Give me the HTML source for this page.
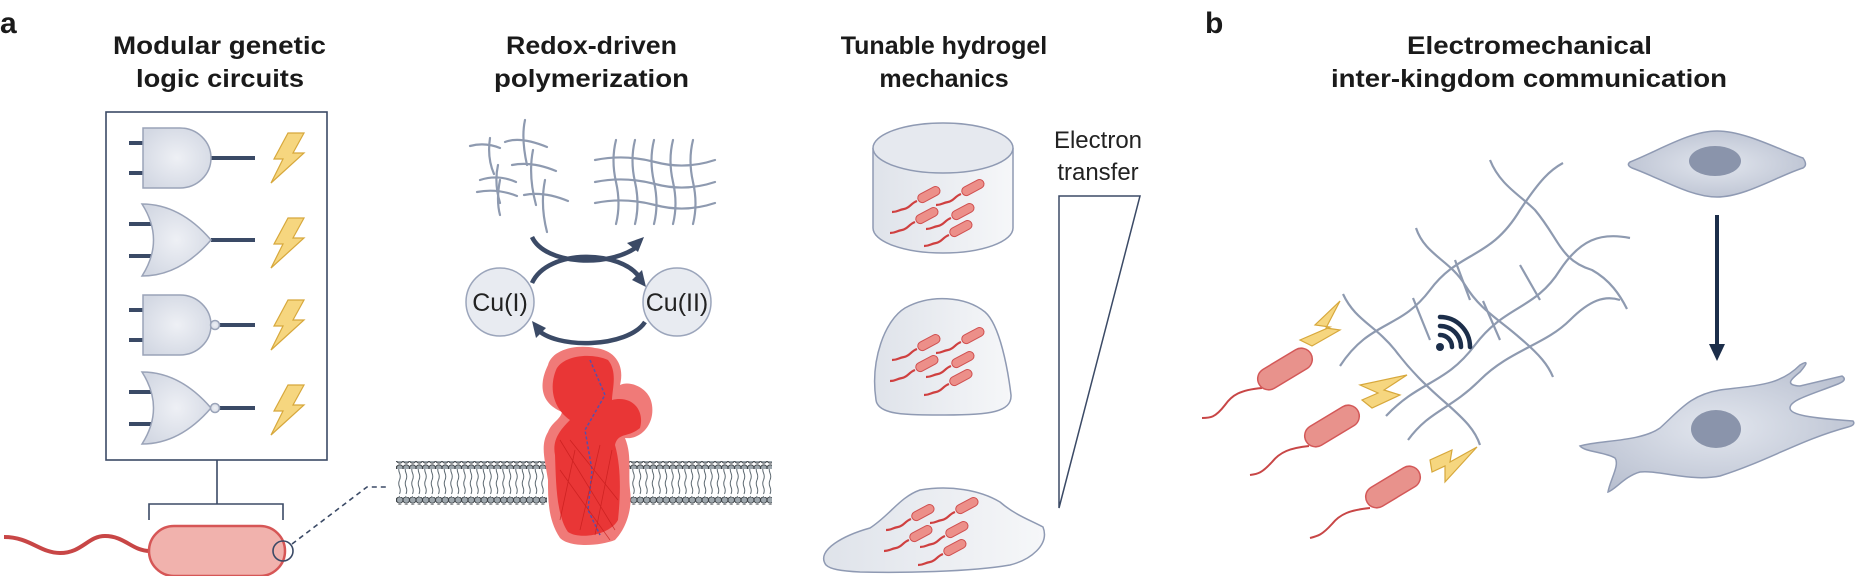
<!DOCTYPE html>
<html><head><meta charset="utf-8"><style>
html,body{margin:0;padding:0;background:#fff;}
svg{display:block;}
.t{font-family:"Liberation Sans",sans-serif;font-weight:bold;fill:#1a1a1a;}
</style></head><body>
<svg width="1855" height="576" viewBox="0 0 1855 576" xmlns="http://www.w3.org/2000/svg">
<defs>
<radialGradient id="gg" cx="0.5" cy="0.5" r="0.6"><stop offset="0" stop-color="#eef0f5"/><stop offset="1" stop-color="#d3d8e3"/></radialGradient>
<linearGradient id="hg" x1="0" x2="1"><stop offset="0" stop-color="#dfe3ea"/><stop offset="1" stop-color="#f6f7f9"/></linearGradient>
<radialGradient id="cg" cx="0.5" cy="0.5" r="0.6"><stop offset="0" stop-color="#e2e6ee"/><stop offset="1" stop-color="#b9c0d0"/></radialGradient>
<g id="bolt"><path d="M288,-25 L304,-25 L293,-5 L304,-5 L271,25 L283,1 L274,1 Z" fill="#f6d67f" stroke="#d7a83c" stroke-width="1.2"/></g>
<g id="mb"><path d="M-11,6 c-6,2 -7,7 -13,8 s-6,3 -12,3" fill="none" stroke="#cf4040" stroke-width="2.2"/><rect x="-11" y="-4.5" width="24" height="9" rx="4.5" fill="#ec8f89" stroke="#d05050" stroke-width="1" transform="rotate(-28)"/></g>
<pattern id="tails" x="0" y="0" width="6.5" height="30" patternUnits="userSpaceOnUse"><path d="M3,0 q-1.5,3.5 0,7 q1.5,3.5 0,7 M3,16 q-1.5,3.5 0,7 q1.5,3.5 0,7" fill="none" stroke="#5e6a72" stroke-width="1"/></pattern>
<pattern id="heads" x="0" y="0" width="6.5" height="8" patternUnits="userSpaceOnUse"><circle cx="3.25" cy="4" r="3.2" fill="#9ea7ad" stroke="#3d4348" stroke-width="0.9"/></pattern>
</defs>

<text class="t" x="0" y="33" font-size="30">a</text>
<text class="t" x="1205" y="33" font-size="30">b</text>

<text class="t" x="113" y="54" font-size="25" textLength="213" lengthAdjust="spacingAndGlyphs">Modular genetic</text>
<text class="t" x="136" y="87" font-size="25" textLength="168" lengthAdjust="spacingAndGlyphs">logic circuits</text>
<text class="t" x="506" y="54" font-size="25" textLength="171" lengthAdjust="spacingAndGlyphs">Redox-driven</text>
<text class="t" x="494" y="87" font-size="25" textLength="195" lengthAdjust="spacingAndGlyphs">polymerization</text>
<text class="t" x="944" y="54" font-size="25" text-anchor="middle">Tunable hydrogel</text>
<text class="t" x="944" y="87" font-size="25" text-anchor="middle">mechanics</text>
<text class="t" x="1407" y="54" font-size="25" textLength="245" lengthAdjust="spacingAndGlyphs">Electromechanical</text>
<text class="t" x="1331" y="87" font-size="25" textLength="396" lengthAdjust="spacingAndGlyphs">inter-kingdom communication</text>

<rect x="106" y="112" width="221" height="348" fill="none" stroke="#3b4a66" stroke-width="1.6"/>
<g stroke="#3a4a66" stroke-width="4" fill="none">
<path d="M129,143 H145 M129,173 H145 M211,158 H255"/>
<path d="M129,224 H155 M129,256 H155 M211,240 H255"/>
<path d="M129,310 H145 M129,340 H145 M219,325 H255"/>
<path d="M129,392 H155 M129,424 H155 M219,408 H255"/>
</g>
<g fill="url(#gg)" stroke="#9aa3b8" stroke-width="1.5">
<path d="M143,128 H180 A31,30 0 0 1 180,188 H143 Z"/>
<path d="M142,204 Q180,204 211,240 Q180,276 142,276 Q165,240 142,204 Z"/>
<path d="M143,295 H180 A31,30 0 0 1 180,355 H143 Z"/>
<circle cx="215" cy="325" r="4.5"/>
<path d="M142,372 Q180,372 211,408 Q180,444 142,444 Q165,408 142,372 Z"/>
<circle cx="215" cy="408" r="4.5"/>
</g>
<use href="#bolt" transform="translate(0,158)"/>
<use href="#bolt" transform="translate(0,243)"/>
<use href="#bolt" transform="translate(0,325)"/>
<use href="#bolt" transform="translate(0,410)"/>

<path d="M217,460 V504 M149,520 V504 H283 V520" fill="none" stroke="#3b4a66" stroke-width="1.6"/>
<path d="M4,537 C30,537 40,553 60,553 C82,553 88,536 105,536 C125,536 132,551 150,551" fill="none" stroke="#c84646" stroke-width="4"/>
<rect x="149" y="526" width="136" height="50" rx="25" fill="#f1b2ad" stroke="#d65656" stroke-width="2.5"/>
<circle cx="283" cy="551" r="10" fill="none" stroke="#3b4a66" stroke-width="1.6"/>
<path d="M292,544 L367,487 L388,487" fill="none" stroke="#3b4a66" stroke-width="1.6" stroke-dasharray="5,4"/>

<g fill="none" stroke="#8e9ab0" stroke-width="2.2" stroke-linecap="round">
<path d="M470,146 q15,-4 30,2 M490,138 q-3,20 4,36 M480,180 q18,-6 36,2 M498,165 q-4,18 2,38"/>
<path d="M505,142 q15,-6 42,5 M525,120 q-4,18 2,45 M512,165 q20,-4 44,6 M533,150 q-5,25 3,55"/>
<path d="M477,192 q20,-4 40,4 M524,195 q20,-4 44,6 M545,180 q-5,25 2,52 M500,180 q-4,20 0,35"/>
<path d="M595,160 q30,-6 60,2 t60,-2 M595,182 q30,-6 60,2 t60,-2 M595,203 q30,-6 60,2 t60,-2"/>
<path d="M616,140 q-5,20 0,42 t0,42 M635,140 q-5,20 0,42 t0,42 M654,140 q-5,20 0,42 t0,42 M673,140 q-5,20 0,42 t0,42 M693,140 q-5,20 0,42 t0,42"/>
</g>

<g fill="none" stroke="#3b4a66" stroke-width="4.5">
<path d="M532,237 C545,265 610,268 638,246"/>
<path d="M532,283 C548,248 622,250 640,278"/>
<path d="M645,322 C628,348 555,350 536,328"/>
</g>
<g fill="#3b4a66">
<path d="M644,237 L627,243 L638,252 Z"/>
<path d="M646,287 L642,270 L632,280 Z"/>
<path d="M532,321 L536,338 L546,328 Z"/>
</g>
<circle cx="500" cy="302" r="34" fill="#e8ebf1" stroke="#9ba5bb" stroke-width="1.5"/>
<circle cx="677" cy="302" r="34" fill="#e8ebf1" stroke="#9ba5bb" stroke-width="1.5"/>
<text x="500" y="311" font-family="Liberation Sans,sans-serif" font-size="25" text-anchor="middle" fill="#222">Cu(I)</text>
<text x="677" y="311" font-family="Liberation Sans,sans-serif" font-size="25" text-anchor="middle" fill="#222">Cu(II)</text>

<rect x="396" y="461" width="151" height="8" fill="url(#heads)"/>
<rect x="396" y="469" width="151" height="28" fill="url(#tails)"/>
<rect x="396" y="497" width="151" height="8" fill="url(#heads)"/>
<rect x="622" y="461" width="150" height="8" fill="url(#heads)"/>
<rect x="622" y="469" width="150" height="28" fill="url(#tails)"/>
<rect x="622" y="497" width="150" height="8" fill="url(#heads)"/>

<g>
<path d="M548,365 C552,350 575,344 595,348 C615,350 625,365 620,385 C630,380 650,388 652,405 C655,425 640,440 625,438 C632,455 628,470 630,490 C633,510 625,530 615,540 C600,546 570,548 560,538 C548,520 548,500 548,480 C545,460 540,445 548,432 C552,422 560,420 562,412 C545,405 536,390 548,365 Z" fill="#f07a78"/>
<path d="M556,370 C562,356 590,352 608,360 C618,372 612,390 612,400 C632,395 645,410 640,428 C628,438 618,432 615,445 C622,470 620,500 618,520 C610,535 580,540 568,532 C556,515 556,480 555,455 C552,440 560,430 570,420 C555,410 548,390 556,370 Z" fill="#e82a2a" opacity="0.85"/>
<path d="M590,360 L605,395 L585,430 L592,470 L588,510 L600,535" fill="none" stroke="#5a4fa8" stroke-width="1.5" stroke-dasharray="3,2"/>
<g stroke="#c41a1a" stroke-width="0.8" opacity="0.7"><path d="M560,440 L615,530 M570,440 L618,500 M560,470 L610,540 M575,450 L560,520 M600,445 L580,530 M612,450 L595,535"/></g>
</g>

<path d="M873,148 V228 A70,25 0 0 0 1013,228 V148" fill="url(#hg)" stroke="#8f9ab3" stroke-width="1.5"/>
<ellipse cx="943" cy="148" rx="70" ry="25" fill="#e6e9ef" stroke="#8f9ab3" stroke-width="1.5"/>
<path d="M876,400 C870,360 885,320 905,308 C930,294 965,296 985,312 C1000,325 1008,370 1011,395 C1012,412 990,415 945,415 C905,415 878,415 876,400 Z" fill="url(#hg)" stroke="#8f9ab3" stroke-width="1.5"/>
<path d="M826,565 C815,550 845,535 870,528 C890,515 900,497 920,490 C950,485 980,490 1000,502 C1015,515 1030,520 1043,527 C1050,545 1030,560 1010,565 C970,572 900,573 860,572 C840,571 830,569 826,565 Z" fill="url(#hg)" stroke="#8f9ab3" stroke-width="1.5"/>
<use href="#mb" transform="translate(928,195)"/><use href="#mb" transform="translate(972,188)"/><use href="#mb" transform="translate(926,216)"/><use href="#mb" transform="translate(962,212)"/><use href="#mb" transform="translate(960,229)"/>
<use href="#mb" transform="translate(928,343)"/><use href="#mb" transform="translate(972,336)"/><use href="#mb" transform="translate(926,364)"/><use href="#mb" transform="translate(962,360)"/><use href="#mb" transform="translate(960,378)"/>
<use href="#mb" transform="translate(922,513)"/><use href="#mb" transform="translate(966,506)"/><use href="#mb" transform="translate(920,534)"/><use href="#mb" transform="translate(956,530)"/><use href="#mb" transform="translate(954,548)"/>

<text x="1098" y="148" font-family="Liberation Sans,sans-serif" font-size="24" text-anchor="middle" fill="#222">Electron</text>
<text x="1098" y="180" font-family="Liberation Sans,sans-serif" font-size="24" text-anchor="middle" fill="#222">transfer</text>
<path d="M1059,196 H1140 L1059,508 Z" fill="none" stroke="#3b4a66" stroke-width="1.5"/>

<g fill="none" stroke="#8e9ab0" stroke-width="2.2">
<path d="M1340,366 C1370,320 1400,330 1430,290 C1460,250 1490,260 1520,210 C1540,180 1550,170 1563,163"/>
<path d="M1386,416 C1420,380 1445,385 1475,345 C1505,305 1535,310 1560,270 C1580,240 1600,232 1630,238"/>
<path d="M1408,440 C1430,410 1450,410 1480,380 C1510,350 1545,345 1570,320 C1590,300 1605,295 1620,300"/>
<path d="M1490,160 C1500,185 1520,195 1535,210 C1560,240 1560,260 1592,270 C1610,280 1620,295 1627,309"/>
<path d="M1416,228 C1425,255 1450,260 1465,285 C1480,310 1500,320 1520,338 C1540,355 1548,365 1553,377"/>
<path d="M1343,294 C1355,320 1375,325 1395,350 C1410,370 1425,385 1447,404 C1465,420 1475,430 1480,445"/>
<path d="M1413,298 L1430,340 M1483,301 L1500,340 M1520,265 L1540,300 M1455,260 L1470,300"/>
</g>
<g fill="none" stroke="#1c2e4a" stroke-width="4.5" stroke-linecap="round">
<circle cx="1440" cy="347" r="4" fill="#1c2e4a" stroke="none"/>
<path d="M1440,335 A12,12 0 0 1 1452,347"/>
<path d="M1440,326 A21,21 0 0 1 1461,347"/>
<path d="M1440,317 A30,30 0 0 1 1470,347"/>
</g>
<g fill="none" stroke="#c84646" stroke-width="2">
<path d="M1262,388 C1240,390 1232,395 1225,405 C1215,418 1210,418 1202,418"/>
<path d="M1309,446 C1290,448 1280,452 1272,462 C1262,473 1258,474 1250,475"/>
<path d="M1370,508 C1350,510 1340,514 1332,524 C1322,535 1318,536 1310,538"/>
</g>
<g fill="#e8928c" stroke="#d35858" stroke-width="1.5">
<rect x="-30" y="-11" width="60" height="22" rx="11" transform="translate(1285,369) rotate(-31)"/>
<rect x="-30" y="-11" width="60" height="22" rx="11" transform="translate(1332,426) rotate(-31)"/>
<rect x="-30" y="-11" width="60" height="22" rx="11" transform="translate(1393,487) rotate(-31)"/>
</g>
<g fill="#f6d67f" stroke="#d7a83c" stroke-width="1.2">
<path d="M1340,301 L1315,325 L1330,327 L1300,340 L1312,346 L1340,330 L1326,328 Z"/>
<path d="M1407,375 L1360,385 L1378,393 L1362,400 L1372,408 L1400,395 L1384,390 Z"/>
<path d="M1477,447 L1450,462 L1452,450 L1430,460 L1432,472 L1445,466 L1445,482 Z"/>
</g>

<path d="M1630,162 C1660,150 1690,131 1717,131 C1745,131 1780,150 1803,158 Q1808,165 1803,168 C1780,175 1745,197 1717,197 C1690,197 1660,178 1632,168 Q1626,165 1630,162 Z" fill="url(#cg)" stroke="#8f9ab3" stroke-width="1.5"/>
<ellipse cx="1715" cy="161" rx="26" ry="15" fill="#8a94ab"/>
<path d="M1717,215 V350" stroke="#1c2e4a" stroke-width="4"/>
<path d="M1709,344 L1717,361 L1725,344 Z" fill="#1c2e4a"/>
<path d="M1580,446 C1600,440 1640,442 1660,428 C1680,410 1690,395 1720,390 C1760,385 1780,385 1800,365 Q1812,358 1800,372 C1790,380 1785,385 1800,386 L1842,376 Q1848,380 1838,384 C1810,395 1790,400 1790,408 C1790,415 1810,418 1853,421 Q1856,425 1848,427 C1800,440 1770,460 1720,476 C1690,482 1660,470 1640,472 C1625,476 1615,490 1608,492 C1610,480 1620,465 1615,458 C1605,452 1585,452 1580,446 Z" fill="url(#cg)" stroke="#8f9ab3" stroke-width="1.5"/>
<ellipse cx="1716" cy="429" rx="25" ry="19" fill="#8a94ab"/>
</svg>
</body></html>
